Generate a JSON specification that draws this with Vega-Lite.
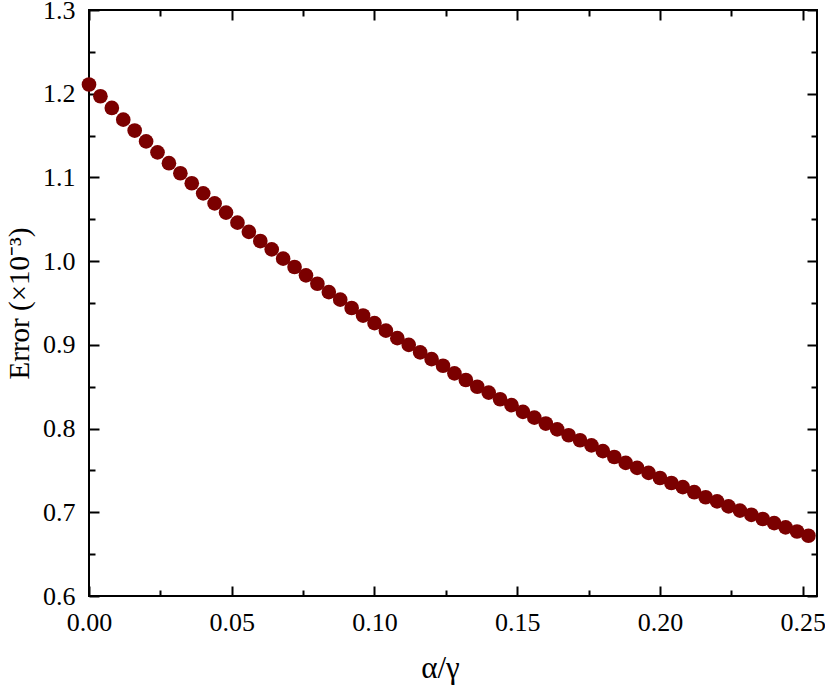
{
  "$schema": "https://vega.github.io/schema/vega-lite/v6.json",
  "autosize": "none",
  "width": 728,
  "height": 586,
  "padding": {"left": 89, "top": 10, "right": 8, "bottom": 93},
  "background": "white",
  "data": {"values": [
    {"ratio": 0.000, "error": 1.211}, {"ratio": 0.004, "error": 1.197}, {"ratio": 0.008, "error": 1.183}, {"ratio": 0.012, "error": 1.169},
    {"ratio": 0.016, "error": 1.156}, {"ratio": 0.020, "error": 1.143}, {"ratio": 0.024, "error": 1.130}, {"ratio": 0.028, "error": 1.117},
    {"ratio": 0.032, "error": 1.105}, {"ratio": 0.036, "error": 1.093}, {"ratio": 0.040, "error": 1.081}, {"ratio": 0.044, "error": 1.069},
    {"ratio": 0.048, "error": 1.058}, {"ratio": 0.052, "error": 1.046}, {"ratio": 0.056, "error": 1.035}, {"ratio": 0.060, "error": 1.024},
    {"ratio": 0.064, "error": 1.014}, {"ratio": 0.068, "error": 1.003}, {"ratio": 0.072, "error": 0.993}, {"ratio": 0.076, "error": 0.983},
    {"ratio": 0.080, "error": 0.973}, {"ratio": 0.084, "error": 0.963}, {"ratio": 0.088, "error": 0.954}, {"ratio": 0.092, "error": 0.944},
    {"ratio": 0.096, "error": 0.935}, {"ratio": 0.100, "error": 0.926}, {"ratio": 0.104, "error": 0.917}, {"ratio": 0.108, "error": 0.908},
    {"ratio": 0.112, "error": 0.900}, {"ratio": 0.116, "error": 0.891}, {"ratio": 0.120, "error": 0.883}, {"ratio": 0.124, "error": 0.875},
    {"ratio": 0.128, "error": 0.866}, {"ratio": 0.132, "error": 0.858}, {"ratio": 0.136, "error": 0.850}, {"ratio": 0.140, "error": 0.843},
    {"ratio": 0.144, "error": 0.835}, {"ratio": 0.148, "error": 0.828}, {"ratio": 0.152, "error": 0.820}, {"ratio": 0.156, "error": 0.813},
    {"ratio": 0.160, "error": 0.806}, {"ratio": 0.164, "error": 0.799}, {"ratio": 0.168, "error": 0.792}, {"ratio": 0.172, "error": 0.786},
    {"ratio": 0.176, "error": 0.780}, {"ratio": 0.180, "error": 0.773}, {"ratio": 0.184, "error": 0.766}, {"ratio": 0.188, "error": 0.759},
    {"ratio": 0.192, "error": 0.753}, {"ratio": 0.196, "error": 0.747}, {"ratio": 0.200, "error": 0.741}, {"ratio": 0.204, "error": 0.735},
    {"ratio": 0.208, "error": 0.730}, {"ratio": 0.212, "error": 0.724}, {"ratio": 0.216, "error": 0.718}, {"ratio": 0.220, "error": 0.713},
    {"ratio": 0.224, "error": 0.707}, {"ratio": 0.228, "error": 0.702}, {"ratio": 0.232, "error": 0.697}, {"ratio": 0.236, "error": 0.692},
    {"ratio": 0.240, "error": 0.687}, {"ratio": 0.244, "error": 0.682}, {"ratio": 0.248, "error": 0.677}, {"ratio": 0.252, "error": 0.672}
  ]},
  "layer": [
    {
      "mark": {"type": "point", "opacity": 0},
      "encoding": {
        "x": {"field": "ratio", "type": "quantitative", "scale": {"domain": [0, 0.255], "nice": false, "zero": false},
              "axis": {"orient": "bottom", "values": [0.025, 0.075, 0.125, 0.175, 0.225], "labels": false, "title": null, "domain": false, "grid": false, "tickSize": -6}},
        "y": {"field": "error", "type": "quantitative", "scale": {"domain": [0.6, 1.3], "nice": false, "zero": false},
              "axis": {"orient": "left", "values": [0.65, 0.75, 0.85, 0.95, 1.05, 1.15, 1.25], "labels": false, "title": null, "domain": false, "grid": false, "tickSize": -6}}
      }
    },
    {
      "mark": {"type": "point", "opacity": 0},
      "encoding": {
        "x": {"field": "ratio", "type": "quantitative",
              "axis": {"orient": "top", "values": [0, 0.05, 0.1, 0.15, 0.2, 0.25], "labels": false, "title": null, "domain": false, "grid": false, "tickSize": -10}},
        "y": {"field": "error", "type": "quantitative",
              "axis": {"orient": "right", "values": [0.6, 0.7, 0.8, 0.9, 1.0, 1.1, 1.2, 1.3], "labels": false, "title": null, "domain": false, "grid": false, "tickSize": -10}}
      }
    },
    {
      "mark": {"type": "point", "opacity": 0},
      "encoding": {
        "x": {"field": "ratio", "type": "quantitative",
              "axis": {"orient": "top", "values": [0.025, 0.075, 0.125, 0.175, 0.225], "labels": false, "title": null, "domain": false, "grid": false, "tickSize": -6}},
        "y": {"field": "error", "type": "quantitative",
              "axis": {"orient": "right", "values": [0.65, 0.75, 0.85, 0.95, 1.05, 1.15, 1.25], "labels": false, "title": null, "domain": false, "grid": false, "tickSize": -6}}
      }
    },
    {
      "mark": {"type": "circle", "size": 215, "opacity": 1, "color": "#7b0000"},
      "encoding": {
        "x": {"field": "ratio", "type": "quantitative",
              "axis": {"orient": "bottom", "values": [0, 0.05, 0.1, 0.15, 0.2, 0.25], "format": ".2f", "title": "α/γ", "domain": false, "grid": false, "tickSize": -10,
                       "labelPadding": 23, "titleX": 351, "titleY": 57, "titleFontSize": 31, "titleFontWeight": "normal"}},
        "y": {"field": "error", "type": "quantitative",
              "axis": {"orient": "left", "values": [0.6, 0.7, 0.8, 0.9, 1.0, 1.1, 1.2, 1.3], "format": ".1f", "title": "Error (×10⁻³)", "domain": false, "grid": false, "tickSize": -10,
                       "labelPadding": 24, "titlePadding": 8, "titleFontSize": 29, "titleFontWeight": "normal"}}
      }
    }
  ],
  "resolve": {"axis": {"x": "independent", "y": "independent"}},
  "config": {
    "view": {"stroke": "black", "strokeWidth": 2},
    "axis": {
      "labelFont": "Liberation Serif", "titleFont": "Liberation Serif",
      "labelFontSize": 26, "labelColor": "black", "titleColor": "black",
      "tickColor": "black", "tickWidth": 2, "labelFlush": false, "labelOverlap": false
    }
  }
}
